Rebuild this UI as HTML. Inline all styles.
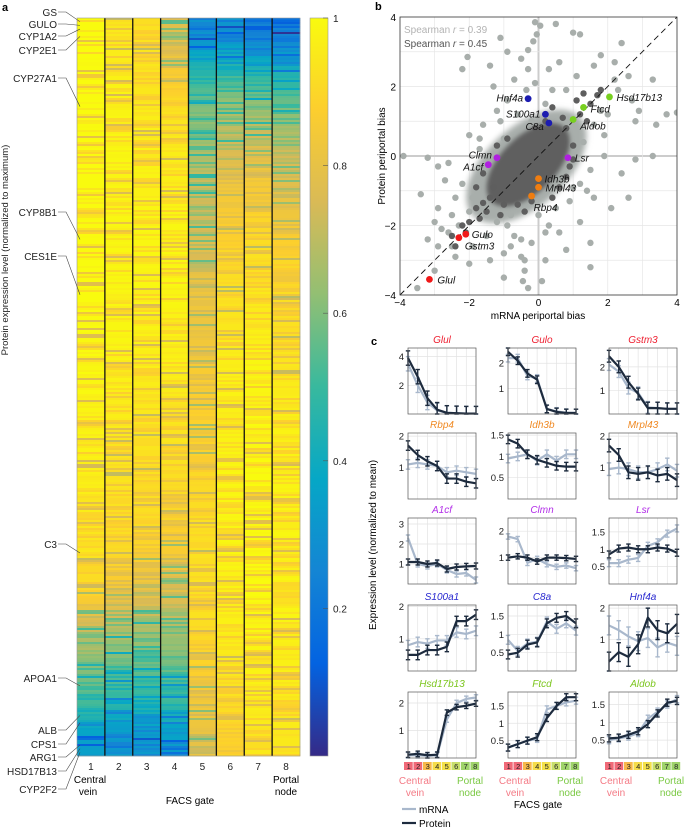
<!DOCTYPE html>
<html><head><meta charset="utf-8"><style>
html,body{margin:0;padding:0;background:#fff;}
svg{display:block;font-family:"Liberation Sans",sans-serif;}
</style></head><body>
<svg id="fig" width="685" height="828" viewBox="0 0 685 828" xmlns="http://www.w3.org/2000/svg">
<defs>
<linearGradient id="cbgrad" x1="0" y1="1" x2="0" y2="0">
<stop offset="0" stop-color="#352A87"/><stop offset="0.125" stop-color="#0363E1"/><stop offset="0.25" stop-color="#1485D4"/><stop offset="0.375" stop-color="#06A7C6"/><stop offset="0.5" stop-color="#38B99E"/><stop offset="0.625" stop-color="#92BF73"/><stop offset="0.75" stop-color="#D9BA56"/><stop offset="0.875" stop-color="#FCCE2E"/><stop offset="1" stop-color="#F9FB0E"/>
</linearGradient>
<clipPath id="bclip"><rect x="400" y="17" width="277" height="278"/></clipPath>
<filter id="soft" x="-20%" y="-20%" width="140%" height="140%"><feGaussianBlur stdDeviation="3"/></filter>
<filter id="soft2" x="-20%" y="-20%" width="140%" height="140%"><feGaussianBlur stdDeviation="2"/></filter>
</defs>
<g id="panelA"></g>
<g id="panelB"></g>
<g id="panelC"></g>
</svg>
<script>
// ---------- Panel a data ----------
const hmColumns = ["1","2","3","4","5","6","7","8"];
const hmCol1 = [1,.99,1,.99,.99,.99,.98,.98,.97,.97,.96,.95,.94,.93,.92,.88,.72,.6,.5,.32];
const hmCol2 = [.92,.94,.96,.96,.96,.96,.96,.96,.96,.95,.94,.92,.91,.9,.88,.82,.68,.56,.45,.3];
const hmCol3 = [.9,.92,.93,.95,.95,.96,.96,.96,.95,.94,.92,.91,.9,.89,.86,.8,.66,.55,.45,.3];
const hmCol4 = [.75,.84,.9,.93,.94,.96,.96,.96,.95,.94,.92,.91,.89,.87,.83,.77,.66,.56,.48,.33];
const hmCol5 = [.28,.45,.58,.64,.7,.72,.76,.8,.8,.83,.85,.86,.88,.89,.9,.9,.9,.86,.82,.78];
const hmCol6 = [.28,.48,.64,.72,.8,.84,.88,.9,.92,.94,.95,.95,.96,.96,.96,.95,.94,.92,.9,.86];
const hmCol7 = [.22,.44,.64,.75,.83,.87,.9,.92,.94,.96,.97,.97,.98,.98,.98,.97,.96,.95,.94,.92];
const hmCol8 = [.22,.42,.58,.7,.76,.82,.87,.89,.9,.92,.94,.95,.95,.96,.96,.96,.95,.94,.94,.92];
const colorbarTicks = [0.2,0.4,0.6,0.8,1];
const geneLabels = ["GS","GULO","CYP1A2","CYP2E1","CYP27A1","CYP8B1","CES1E","C3","APOA1","ALB","CPS1","ARG1","HSD17B13","CYP2F2"];
const geneRowFrac = [0.005,0.01,0.015,0.025,0.12,0.3,0.375,0.725,0.905,0.945,0.955,0.985,0.99,0.995];
const geneLabelY = [12,24,36,50,78,212,256,544,678,730,744,757,771,789];

// ---------- Panel b data ----------
const lightX = [-0.1,0.05,-0.05,1.0,1.2,2.4,-2.05,-2.2,-1.4,-0.5,-0.3,-0.15,-1.1,-0.9,-0.35,-0.7,-0.1,0.6,0.3,1.1,1.6,2.2,1.8,2.2,2.6,3.3,2.7,3.4,4.0,2.8,1.9,1.6,-3.9,-3.2,-2.9,-2.6,-1.7,-2.0,-1.6,-1.2,-0.6,0.2,0.8,-3.4,-2.9,-2.5,-3.0,-2.6,-3.2,-2.9,-2.5,-2.4,-3.0,-3.5,-2.0,-1.4,-1.0,-0.5,0.1,-0.4,-0.3,-0.45,-1.0,-0.5,-0.2,-1.5,1.5,1.5,0.6,0.3,2.1,1.2,0.9,1.6,2.4,2.8,3.3,1.9,1.5,1.2,-1.8,-2.2,-1.5,-0.9,0.0,0.5,0.3,0.7,-1.0,-1.6,-0.6,0.9,-0.8,0.2,2.6,3.7,-1.3,0.5,-2.3,-2.0,-1.9,-1.2,-0.8,1.0,1.3,2.0,2.3,1.4,0.6,-0.2,-1.7,-2.4,-2.7,-1.1,0.2,-0.7,-0.4,1.8,-0.3,0.4,-1.9,-0.9,2.9,0.8,-0.6,-2.8];
const lightY = [3.85,3.75,3.5,3.55,3.5,3.25,2.85,2.5,2.6,2.8,3.05,3.3,3.4,3.0,1.9,2.2,2.1,2.7,2.5,2.3,2.6,2.7,2.9,2.2,2.3,2.2,1.6,0.9,1.25,1.0,0.6,0.9,0,-0.05,-0.3,-0.2,0.2,0.6,0.9,1.3,1.2,1.5,1.9,-1.1,-1.5,-1.7,-1.9,-2.2,-2.4,-2.6,-2.6,-2.9,-3.3,-3.8,-3.1,-3.0,-2.8,-2.9,-3.6,-3.3,-3.8,-3.6,-3.5,-2.4,-2.5,-2.3,-3.2,-2.5,-2.2,-2.0,-1.5,-1.9,-1.3,-1.2,-0.5,-0.1,0.0,0.0,-0.4,-0.8,-1.3,-0.8,-1.7,-2.0,-1.7,-1.5,0.8,0.7,0.5,-0.8,-1.5,0.3,-2.6,-3.0,-1.2,1.2,2.0,3.8,-2.0,-1.6,-1.2,-1.9,-1.7,-0.9,0.4,1.2,1.9,-1.0,-0.9,1.0,0.5,-1.2,-0.7,1.0,-2.2,-2.3,-3.0,1.3,2.5,1.9,-2.6,1.6,1.3,-2.7,0.6,-2.1];
const darkX = [-2.5,-2.2,-2.0,-1.8,-1.6,-1.4,-1.0,-0.6,-0.2,0.4,0.8,0.9,1.0,0.8,1.2,1.5,1.7,1.8,1.3,1.1,0.4,0.7,-1.2,-1.6,-1.8,-1.3,-0.9,-0.1,-2.4,-1.7,-1.5,-1.1,0.6,1.0,-0.4,0.2,-2.1,1.4];
const darkY = [-2.3,-2.0,-1.9,-1.5,-1.35,-1.2,-1.4,-1.4,-1.3,-1.2,-0.6,-0.3,0.3,0.8,1.2,1.5,1.75,1.9,1.8,1.6,1.4,1.1,0.3,-0.5,-0.9,-0.9,0.5,0.8,-2.6,-1.8,-1.6,-1.7,-0.9,-0.1,-1.6,1.0,-2.2,1.0];
const hlNames = ["Glul","Gulo","Gstm3","Hnf4a","S100a1","C8a","Hsd17b13","Ftcd","Aldob","Clmn","A1cf","Lsr","Idh3b","Mrpl43","Rbp4"];
const hlX = [-3.15,-2.1,-2.3,-0.3,0.2,0.3,2.05,1.3,1.0,-1.2,-1.45,0.85,0,0,-0.2];
const hlY = [-3.55,-2.25,-2.35,1.65,1.2,0.95,1.7,1.4,1.05,-0.05,-0.25,-0.05,-0.65,-0.9,-1.15];
const bTicks = [-4,-2,0,2,4];

// ---------- Panel c data ----------
const cGenes = ["Glul","Gulo","Gstm3","Rbp4","Idh3b","Mrpl43","A1cf","Clmn","Lsr","S100a1","C8a","Hnf4a","Hsd17b13","Ftcd","Aldob"];
const cProtein = [
 [3.9,2.6,1.1,0.3,0.08,0.05,0.03,0.03],[2.45,2.1,1.6,1.35,0.2,0.08,0.04,0.04],[2.45,2.0,1.35,0.85,0.25,0.25,0.22,0.22],
 [1.7,1.4,1.2,1.05,0.65,0.65,0.55,0.5],[1.4,1.3,1.05,0.92,0.85,0.78,0.76,0.76],[1.7,1.4,0.85,0.8,0.85,0.75,0.8,0.6],
 [1.1,1.1,1.0,1.05,0.75,0.85,0.88,0.9],[1.0,1.05,1.0,0.85,1.0,1.0,0.98,0.95],[0.85,1.02,1.05,1.0,1.0,1.05,1.02,0.9],
 [0.5,0.5,0.65,0.65,0.75,1.55,1.55,1.75],[0.45,0.5,0.72,0.78,1.3,1.45,1.5,1.3],[0.3,0.6,0.45,0.85,1.7,1.3,1.2,1.5],
 [0.12,0.15,0.1,0.12,1.65,1.85,1.9,1.98],[0.3,0.4,0.5,0.6,1.15,1.5,1.75,1.75],[0.55,0.57,0.65,0.75,0.95,1.25,1.55,1.6]];
const cMrna = [
 [3.5,2.0,0.8,0.25,0.08,0.05,0.03,0.03],[2.2,2.2,1.5,1.4,0.2,0.1,0.05,0.04],[2.1,1.8,1.1,0.9,0.28,0.25,0.22,0.22],
 [1.1,1.15,1.1,1.05,0.85,0.9,0.85,0.8],[0.95,1.0,1.05,0.9,1.05,0.9,1.05,1.05],[0.95,1.0,0.95,0.85,0.85,0.95,1.1,0.9],
 [2.3,1.0,0.9,1.0,0.7,0.5,0.55,0.2],[1.8,1.7,0.8,0.95,0.75,0.65,0.7,0.6],[0.6,0.6,0.7,0.75,1.1,1.2,1.45,1.6],
 [0.8,0.9,0.85,0.95,0.95,1.2,1.15,1.25],[0.85,0.55,0.75,0.8,1.35,1.15,1.3,1.1],[1.45,1.3,1.1,0.95,1.05,0.75,0.9,0.8],
 [0.1,0.1,0.08,0.1,1.4,2.0,2.15,2.2],[0.3,0.4,0.5,0.55,1.4,1.5,1.6,1.65],[0.5,0.55,0.6,0.7,1.1,1.3,1.5,1.65]];
const cYMax = [4.6,2.6,2.8,2.1,1.55,2.1,3.3,2.5,1.9,2.05,1.8,2.1,2.4,1.9,1.85];
const cTicks = [[2,4],[1,2],[1,2],[1,2],[0.5,1,1.5],[1,2],[1,2,3],[1,2],[0.5,1,1.5],[1,2],[0.5,1,1.5],[1,2],[1,2],[0.5,1,1.5],[0.5,1,1.5]];
const cErr = [0.5,0.15,0.25,0.15,0.1,0.2,0.15,0.1,0.1,0.15,0.12,0.3,0.1,0.1,0.1];
const gateLabels = ["1","2","3","4","5","6","7","8"];

const NS="http://www.w3.org/2000/svg";
function mk(tag, attrs, parent){const e=document.createElementNS(NS,tag);for(const k in attrs)e.setAttribute(k,attrs[k]);parent.appendChild(e);return e;}
function txt(parent,x,y,s,attrs){const t=mk('text',Object.assign({x:x,y:y},attrs||{}),parent);t.textContent=s;return t;}

const pStops=[[0,[53,42,135]],[.125,[3,99,225]],[.25,[20,133,212]],[.375,[6,167,198]],[.5,[56,185,158]],[.625,[146,191,115]],[.75,[217,186,86]],[.875,[252,206,46]],[1,[249,251,14]]];
function parula(v){v=Math.max(0,Math.min(1,v));for(let i=1;i<pStops.length;i++){if(v<=pStops[i][0]){const a=pStops[i-1],b=pStops[i];const t=(v-a[0])/(b[0]-a[0]);const c=a[1].map((x,j)=>Math.round(x+(b[1][j]-x)*t));return `rgb(${c.join(',')})`;}}return 'rgb(249,251,14)';}

// texture pattern for heatmap striping (visual texture only)
const stripeTex=[0,-0.06,0.02,-0.1,0.03,0,-0.04,0.03,-0.15,0.02,-0.02,0.03,-0.07,0.01,0.03,-0.03,-0.2,0.02,0,-0.05,0.03];
function texIdx(k,ci){let h=Math.imul(k+1,2654435761)^Math.imul(ci+7,40503);h=Math.imul(h^(h>>>15),2246822519);return ((h^(h>>>13))>>>0)%stripeTex.length;}

// ---------- Panel a ----------
const A=document.getElementById('panelA');
const hmL=77,hmR=300,hmT=18,hmB=756;
const colW=(hmR-hmL)/8;
const hmCols=[hmCol1,hmCol2,hmCol3,hmCol4,hmCol5,hmCol6,hmCol7,hmCol8];
txt(A,2,11,"a",{'font-weight':'bold','font-size':'11'});
const nB=hmCol1.length, bandH=(hmB-hmT)/nB;
hmCols.forEach((col,ci)=>{
  const g=mk('g',{},A);
  
  
  const x=hmL+ci*colW;
  let k=0;
  for(let y=hmT;y<hmB;y+=2){
    const f=(y+1-hmT)/bandH-0.5;
    const i0=Math.max(0,Math.min(nB-1,Math.floor(f))),i1=Math.min(nB-1,i0+1);
    const t=Math.max(0,Math.min(1,f-i0));
    const v=col[i0]+(col[i1]-col[i0])*t+stripeTex[texIdx(k,ci)];
    k++;
    mk('rect',{x:x,y:y,width:colW+0.3,height:2.3,fill:parula(v)},g);
  }
  const lab=txt(A,x+colW/2,770,hmColumns[ci],{'font-size':'10','text-anchor':'middle',fill:'#222'});
  
  
});
for(let i=1;i<8;i++){mk('line',{x1:hmL+i*colW,y1:hmT,x2:hmL+i*colW,y2:hmB,stroke:'#111','stroke-width':1.3},A);}
mk('rect',{x:hmL,y:hmT,width:hmR-hmL,height:hmB-hmT,fill:'none',stroke:'#999','stroke-width':0.6},A);
geneLabels.forEach((gname,i)=>{
  const ry=hmT+geneRowFrac[i]*(hmB-hmT);
  const t=txt(A,57,geneLabelY[i]+4,gname,{'font-size':'10','text-anchor':'end',fill:'#222'});
  
  
  mk('polyline',{points:`58,${geneLabelY[i]} 66,${geneLabelY[i]} ${hmL+3},${ry}`,fill:'none',stroke:'#444','stroke-width':0.6},A);
});
const yt=txt(A,0,0,"Protein expression level (normalized to maximum)",{'font-size':'9.5','text-anchor':'middle',transform:'translate(8,250) rotate(-90)',fill:'#222'});


txt(A,90,783,"Central",{'font-size':'10','text-anchor':'middle'});
txt(A,88,795,"vein",{'font-size':'10','text-anchor':'middle'});
txt(A,286,783,"Portal",{'font-size':'10','text-anchor':'middle'});
txt(A,286,795,"node",{'font-size':'10','text-anchor':'middle'});
const fx=txt(A,190,804,"FACS gate",{'font-size':'10','text-anchor':'middle'});


const cb=mk('rect',{x:310,y:hmT,width:18,height:hmB-hmT,fill:'url(#cbgrad)',stroke:'#999','stroke-width':0.6},A);


colorbarTicks.forEach(v=>{
  const y=hmB-v*(hmB-hmT);
  mk('line',{x1:323,y1:y,x2:328,y2:y,stroke:'#555','stroke-width':0.6},A);
  const t=txt(A,333,y+4,String(v),{'font-size':'10',fill:'#222'});
  
  
});

// ---------- Panel b ----------
const B=document.getElementById('panelB');
const bL=400,bR=677,bT=17,bBt=295;
const sx=v=>bL+(v+4)/8*(bR-bL), sy=v=>bBt-(v+4)/8*(bBt-bT);
txt(B,375,10,"b",{'font-weight':'bold','font-size':'11'});
for(let v=-3;v<=3;v++){
  mk('line',{x1:sx(v),y1:bT,x2:sx(v),y2:bBt,stroke:v==0?'#ccc':'#e6e6e6','stroke-width':v==0?2:0.7},B);
  mk('line',{x1:bL,y1:sy(v),x2:bR,y2:sy(v),stroke:v==0?'#ccc':'#e6e6e6','stroke-width':v==0?2:0.7},B);
}
const cg=mk('g',{'clip-path':'url(#bclip)'},B);
const cx0=sx(-0.35),cy0=sy(-0.3);
mk('ellipse',{cx:cx0,cy:cy0,rx:2.1*34.6,ry:1.15*34.6,fill:'#a8aeab',filter:'url(#soft)',transform:`rotate(-42 ${cx0} ${cy0})`},cg);
lightX.forEach((x,i)=>{const c=mk('circle',{cx:sx(x),cy:sy(lightY[i]),r:3.2,fill:'#a8aeab'},cg);
  
  });
const cx1=sx(-0.3),cy1=sy(-0.25);
mk('ellipse',{cx:cx1,cy:cy1,rx:1.5*34.6,ry:0.8*34.6,fill:'#5e5e5e',filter:'url(#soft2)',transform:`rotate(-45 ${cx1} ${cy1})`},cg);
darkX.forEach((x,i)=>{const c=mk('circle',{cx:sx(x),cy:sy(darkY[i]),r:3.2,fill:'#5e5e5e'},cg);
  
  });
mk('line',{x1:sx(-4),y1:sy(-4),x2:sx(4),y2:sy(4),stroke:'#111','stroke-width':0.9,'stroke-dasharray':'6,4'},B);
const hlCol={Glul:'#f01818',Gulo:'#f01818',Gstm3:'#f01818',Hnf4a:'#1c1cb0',S100a1:'#1c1cb0',C8a:'#1c1cb0',Hsd17b13:'#78d020',Ftcd:'#78d020',Aldob:'#78d020',Clmn:'#b020e0',A1cf:'#b020e0',Lsr:'#b020e0',Idh3b:'#f07d10',Mrpl43:'#f07d10',Rbp4:'#f07d10'};
const hlOff={Glul:[8,4,'start'],Gulo:[6,4,'start'],Gstm3:[6,12,'start'],Hnf4a:[-5,3,'end'],S100a1:[-5,3,'end'],C8a:[-5,7,'end'],Hsd17b13:[7,4,'start'],Ftcd:[7,5,'start'],Aldob:[7,10,'start'],Clmn:[-5,1,'end'],A1cf:[-5,6,'end'],Lsr:[7,4,'start'],Idh3b:[6,4,'start'],Mrpl43:[7,4,'start'],Rbp4:[2,15,'start']};
hlNames.forEach((n,i)=>{
  const c=mk('circle',{cx:sx(hlX[i]),cy:sy(hlY[i]),r:3.4,fill:hlCol[n]},B);
  
  
  const o=hlOff[n];
  txt(B,sx(hlX[i])+o[0],sy(hlY[i])+o[1],n,{'font-size':'10','font-style':'italic','text-anchor':o[2],fill:'#111'});
});
mk('rect',{x:bL,y:bT,width:bR-bL,height:bBt-bT,fill:'none',stroke:'#333','stroke-width':0.8},B);
bTicks.forEach(v=>{
  const tx=txt(B,sx(v),306,(v<0?'\u2212':'')+Math.abs(v),{'font-size':'10','text-anchor':'middle'});
  
  
  const ty=txt(B,bL-4,sy(v)+4,(v<0?'\u2212':'')+Math.abs(v),{'font-size':'10','text-anchor':'end'});
  
  
});
const s1=txt(B,404,33,"Spearman ",{'font-size':'10',fill:'#b3b3b3'});
const s1b=mk('tspan',{'font-style':'italic'},s1);s1b.textContent="r";const s1c=mk('tspan',{},s1);s1c.textContent=" = 0.39";


const s2=txt(B,404,47,"Spearman ",{'font-size':'10',fill:'#555'});
const s2b=mk('tspan',{'font-style':'italic'},s2);s2b.textContent="r";const s2c=mk('tspan',{},s2);s2c.textContent=" = 0.45";


const bxl=txt(B,538,319,"mRNA periportal bias",{'font-size':'10','text-anchor':'middle'});


const byl=txt(B,0,0,"Protein periportal bias",{'font-size':'10','text-anchor':'middle',transform:'translate(385,156) rotate(-90)'});



// ---------- Panel c ----------
const C=document.getElementById('panelC');
txt(C,371,345,"c",{'font-weight':'bold','font-size':'11'});
const rowTop=[348,433,518,605,692], colLeft=[408,508,609], pW=68, pH=66;
const titleCol=['#ee2233','#ee2233','#ee2233','#f08a24','#f08a24','#f08a24','#b22ee8','#b22ee8','#b22ee8','#2a2ad0','#2a2ad0','#2a2ad0','#7cc61e','#7cc61e','#7cc61e'];
cGenes.forEach((gname,k)=>{
  const L=colLeft[k%3],T=rowTop[Math.floor(k/3)];
  const g=mk('g',{},C);
  
  
  const px=i=>L+i*pW/7, py=v=>T+pH-v/cYMax[k]*pH;
  for(let i=1;i<7;i++)mk('line',{x1:px(i),y1:T,x2:px(i),y2:T+pH,stroke:'#e3e3e3','stroke-width':0.7},g);
  cTicks[k].forEach(v=>{
    mk('line',{x1:L,y1:py(v),x2:L+pW,y2:py(v),stroke:'#e3e3e3','stroke-width':0.7},g);
    txt(g,L-4,py(v)+3.5,String(v),{'font-size':'9.5','text-anchor':'end',fill:'#222'});
  });
  [[cMrna[k],'#a9b8cc','mrna'],[cProtein[k],'#1d2b3e','protein']].forEach(([arr,col,nm])=>{
    const pts=arr.map((v,i)=>`${px(i)},${py(v)}`).join(' ');
    const pl=mk('polyline',{points:pts,fill:'none',stroke:col,'stroke-width':2.2,'stroke-linejoin':'round'},g);
    
    
    arr.forEach((v,i)=>{
      const e=cErr[k];
      mk('line',{x1:px(i),y1:py(v+e),x2:px(i),y2:py(Math.max(0,v-e)),stroke:col,'stroke-width':1.4},g);
      mk('line',{x1:px(i)-2.2,y1:py(v+e),x2:px(i)+2.2,y2:py(v+e),stroke:col,'stroke-width':1.4},g);
      mk('line',{x1:px(i)-2.2,y1:py(Math.max(0,v-e)),x2:px(i)+2.2,y2:py(Math.max(0,v-e)),stroke:col,'stroke-width':1.4},g);
    });
  });
  mk('rect',{x:L,y:T,width:pW,height:pH,fill:'none',stroke:'#555','stroke-width':0.7},g);
  txt(g,L+pW/2,T-5,gname,{'font-size':'10','font-style':'italic','text-anchor':'middle',fill:titleCol[k]});
});
const gateCol=['#f06a78','#f06a78','#f7b84a','#f5dc4a','#f3e04a','#c8de6a','#9fd36a','#9fd36a'];
colLeft.forEach((L,ci)=>{
  gateLabels.forEach((lab,i)=>{
    const x=L-4+i*(pW+8)/8;
    const r=mk('rect',{x:x,y:762,width:(pW+8)/8-0.8,height:8,fill:gateCol[i]},C);
    
    
    txt(C,x+(pW+8)/16,769,lab,{'font-size':'7.5','text-anchor':'middle',fill:'#222'});
  });
  txt(C,L+7,784,"Central",{'font-size':'10','text-anchor':'middle',fill:'#f47a85'});
  txt(C,L+7,796,"vein",{'font-size':'10','text-anchor':'middle',fill:'#f47a85'});
  txt(C,L+62,784,"Portal",{'font-size':'10','text-anchor':'middle',fill:'#7ac943'});
  txt(C,L+62,796,"node",{'font-size':'10','text-anchor':'middle',fill:'#7ac943'});
});
const cx=txt(C,538,808,"FACS gate",{'font-size':'10','text-anchor':'middle'});


const cy=txt(C,0,0,"Expression level (normalized to mean)",{'font-size':'10','text-anchor':'middle',transform:'translate(376,545) rotate(-90)'});


const lg=mk('g',{},C);


mk('line',{x1:402,y1:809,x2:416,y2:809,stroke:'#a9b8cc','stroke-width':2.2},lg);
txt(lg,419,813,"mRNA",{'font-size':'10'});
mk('line',{x1:402,y1:823,x2:416,y2:823,stroke:'#1d2b3e','stroke-width':2.2},lg);
txt(lg,419,827,"Protein",{'font-size':'10'});
</script>
</body></html>
